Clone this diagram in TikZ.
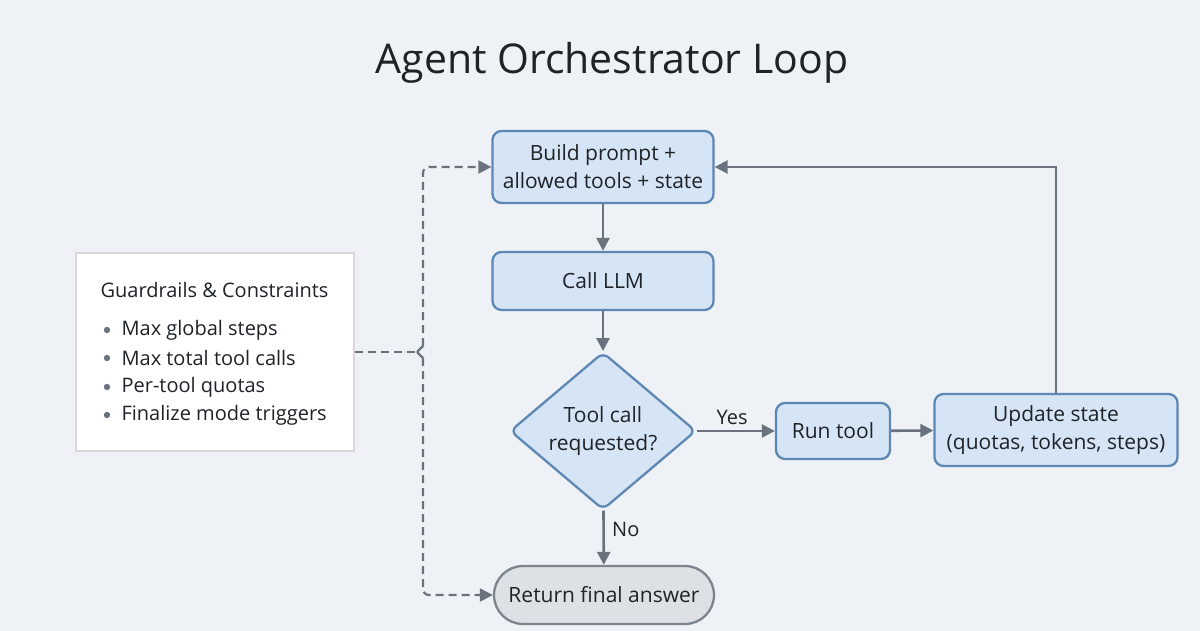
\documentclass[tikz,border=0pt]{standalone}
\usepackage{fontspec}
\setmainfont{Open Sans}
\usetikzlibrary{shapes.geometric,arrows.meta}
\definecolor{bgc}{HTML}{EEF2F6}
\definecolor{boxfill}{HTML}{D5E5F5}
\definecolor{boxline}{HTML}{5E87B3}
\definecolor{arrowc}{HTML}{6A737D}
\definecolor{pillfill}{HTML}{DDE1E6}
\definecolor{pillline}{HTML}{7C848D}
\definecolor{txt}{HTML}{1F2328}
\tikzset{every picture/.style={line width=2.5pt}}
\tikzset{
  stage/.style={draw=boxline,fill=boxfill,line width=2.3pt,rounded corners=9pt,minimum width=221pt,align=center,font=\fontsize{21}{28}\selectfont,text=txt},
  flow/.style={draw=arrowc,line width=2.6pt,-{Triangle[length=13pt,width=13pt]}},
  guard/.style={draw=arrowc,line width=2.2pt,dash pattern=on 8pt off 5pt},
  lab/.style={font=\fontsize{20}{24}\selectfont,text=txt}
}
\begin{document}
\begin{tikzpicture}[x=1pt,y=-1pt]
\fill[bgc] (0,0) rectangle (1200,631);
\useasboundingbox (0,0) rectangle (1200,631);

% Title
\node (title) at (612,63) [font=\fontsize{41}{48}\selectfont,text=txt] {Agent Orchestrator Loop};

% Flow nodes
\node (build) at (603,167) [stage,minimum height=72pt] {Build prompt +\\allowed tools + state};
\node (llm) at (603,281) [stage,minimum height=58pt] {Call LLM};
\node (check) at (603,431) [diamond,draw=boxline,fill=boxfill,line width=2.3pt,rounded corners=7pt,minimum width=186pt,minimum height=144pt,inner sep=0pt,align=center,font=\fontsize{21}{28}\selectfont,text=txt] {Tool call\\requested?};
\node (run) at (833,431) [stage,minimum width=114pt,minimum height=56pt] {Run tool};
\node (update) at (1056,430) [stage,minimum width=243pt,minimum height=72pt] {Update state\\(quotas, tokens, steps)};
\node (final) at (604,595) [draw=pillline,fill=pillfill,line width=2.3pt,rounded corners=29pt,minimum width=220pt,minimum height=58pt,font=\fontsize{21}{28}\selectfont,text=txt] {Return final answer};

% Guardrails box
\node (rules) at (215,352) [draw=black!15,fill=white,line width=1.5pt,minimum width=278pt,minimum height=198pt] {};
\node (rtitle) at (96,290) [anchor=west,lab] {Guardrails \& Constraints};
\foreach \y/\t in {330/Max global steps,358/Max total tool calls,387/Per-tool quotas,415/Finalize mode triggers}{
  \fill[arrowc] (107,\y) circle (3.2pt);
  \node at (117,\y) [anchor=west,lab] {\t};
}

% Connectors
\draw[flow] (build) -- (llm);
\draw[flow] (llm) -- (check);
\draw[flow] (check) -- node[above,pos=0.45,yshift=2pt,lab] {Yes} (run);
\draw[flow] (run) -- (update);
\draw[flow] (check) -- node[right,pos=0.35,xshift=4pt,lab] {No} (final);
\draw[flow] (update.north) |- (build.east);

% Guardrails bracket
\coordinate (brace) at (417,352);
\draw[guard] (rules.east) -- (brace);
\draw[arrowc,line width=2.2pt] (brace) -- (423,346) (brace) -- (423,358);
\draw[guard,-{Triangle[length=13pt,width=13pt]},rounded corners=6pt] (423,346) |- (build.west);
\draw[guard,-{Triangle[length=13pt,width=13pt]},rounded corners=6pt] (423,358) |- (final.west);
\end{tikzpicture}
\end{document}
